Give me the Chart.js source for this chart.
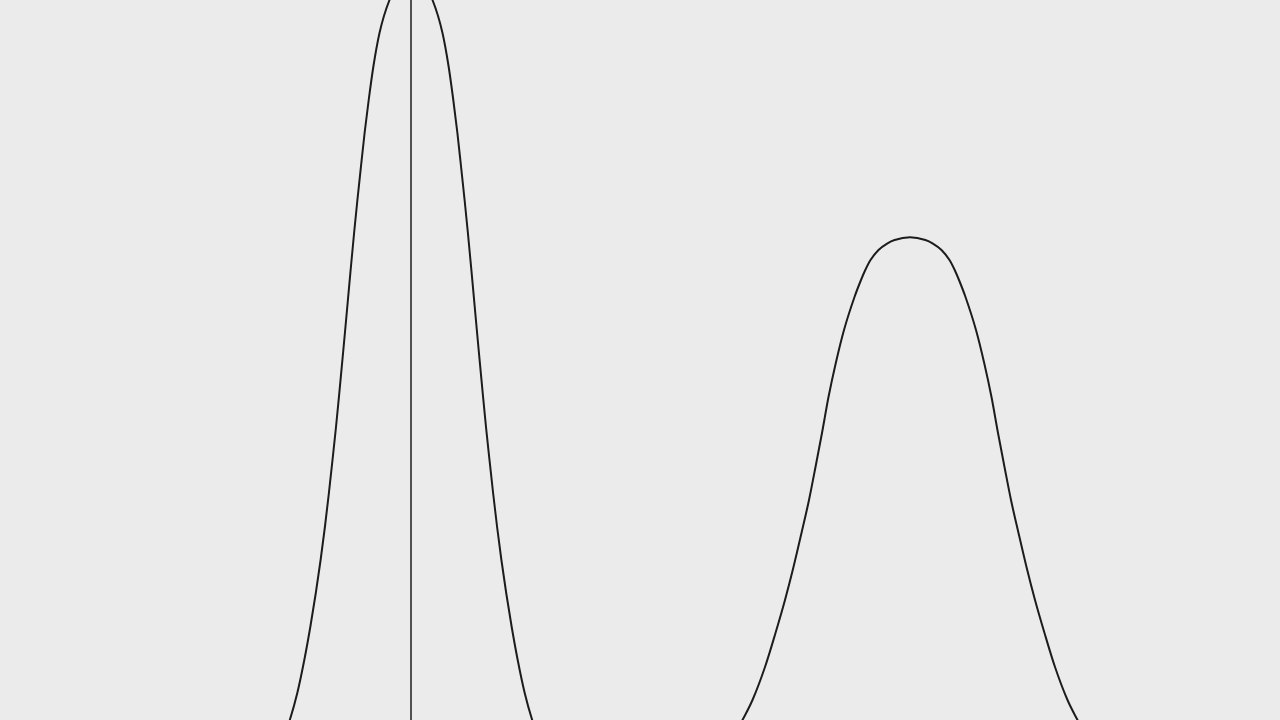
<!DOCTYPE html>
<html>
<head>
<meta charset="utf-8">
<title>Two peaks</title>
<script src="https://cdn.jsdelivr.net/npm/chart.js@4"></script>
<style>
    html, body { margin: 0; padding: 0; background: #ebebeb; overflow: hidden; }
    #wrap { width: 1280px; height: 720px; position: relative; }
</style>
</head>
<body>
<div id="wrap"><canvas id="chart"></canvas></div>
<script>
// ---------- DATA ----------
// narrow peak (left); both ends and the top run past the frame
const peakAX = [279, 289.8, 297.3, 304.3, 310.3, 315.8, 320.6, 324.9, 328.9, 332.5, 336, 339.3, 342.4, 344.9, 347.9, 350.9, 354.1, 357.4, 360.9, 364.6, 368.7, 373.3, 379.5, 389.5, 401, 411,
                421, 432.5, 442.5, 448.7, 453.3, 457.4, 461.1, 464.6, 467.9, 471.1, 474.1, 477.1, 479.6, 482.7, 486, 489.5, 493.1, 497.1, 501.4, 506.2, 511.7, 517.7, 524.7, 532.2, 543];
const peakAY = [-30, 0, 27, 60, 93, 127, 160, 193, 227, 260, 293, 327, 360, 387, 420, 453, 487, 520, 553, 587, 620, 653, 687, 720, 740.5, 746,
                740.5, 720, 687, 653, 620, 587, 553, 520, 487, 453, 420, 387, 360, 327, 293, 260, 227, 193, 160, 127, 93, 60, 27, 0, -30];

// wide peak (right)
const peakBX = [726.5, 742.5, 752.5, 765, 775.5, 785, 793.5, 801.5, 809, 815.5, 822, 828.5, 835.8, 844, 854.5, 861, 865.3, 870.5, 878.5, 887.5, 894.6, 910,
                925.4, 932.5, 941.5, 949.5, 954.7, 959, 965.5, 976, 984.2, 991.5, 998, 1004.5, 1011, 1018.5, 1026.5, 1035, 1044.5, 1055, 1067.5, 1077.5, 1093.5];
const peakBY = [-30, 0, 20, 53, 87, 120, 153, 187, 220, 253, 287, 323, 357, 390, 423, 440, 450, 460, 470, 476.7, 480, 482.7,
                480, 476.7, 470, 460, 450, 440, 423, 390, 357, 323, 287, 253, 220, 187, 153, 120, 87, 53, 20, 0, -30];

// vertical marker through the narrow peak
const markerX = 411;
const markerSpan = [-30, 760];

// ---------- HELPERS ----------
const toPoints = (xs, ys) => xs.map((x, i) => ({ x, y: ys[i] }));

const curveStyle = {
    borderColor: "#1c1c1c",
    borderWidth: 2,
    cubicInterpolationMode: "monotone",
    pointRadius: 0,
    fill: false
};

// ---------- CHART ----------
const ctx = document.getElementById("chart").getContext("2d");
new Chart(ctx, {
    type: "line",
    data: {
        datasets: [
            { ...curveStyle, data: toPoints(peakAX, peakAY) },
            { ...curveStyle, data: toPoints(peakBX, peakBY) },
            {
                data: markerSpan.map(y => ({ x: markerX, y })),
                borderColor: "#2a2a2a",
                borderWidth: 1.6,
                pointRadius: 0,
                fill: false
            }
        ]
    },
    options: {
        responsive: true,
        maintainAspectRatio: false,
        animation: false,
        layout: { padding: 0 },
        // curves run past the frame, so don't pull the bezier handles inside it
        elements: { line: { capBezierPoints: false } },
        plugins: { legend: { display: false }, tooltip: { enabled: false } },
        scales: {
            x: { type: "linear", min: 0, max: 1280, display: false },
            y: { type: "linear", min: 0, max: 720, display: false }
        }
    }
});
</script>
</body>
</html>
